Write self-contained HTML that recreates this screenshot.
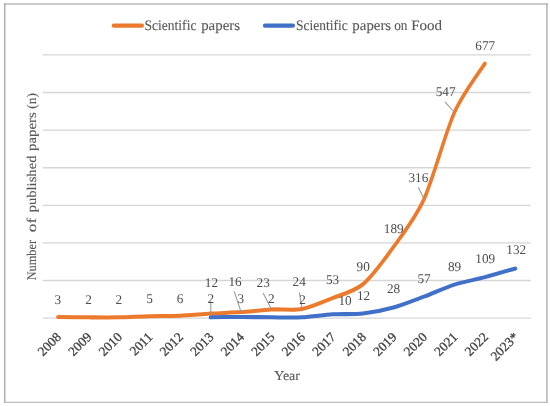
<!DOCTYPE html>
<html><head><meta charset="utf-8"><title>Chart</title>
<style>html,body{margin:0;padding:0;background:#fff}svg text{font-family:"Liberation Serif", serif;text-rendering:geometricPrecision;stroke-width:0.3px;} .d{stroke:#404040} .l{stroke:#595959;stroke-width:0.12px}</style></head>
<body>
<svg width="550" height="406" viewBox="0 0 550 406" style="display:block">
<rect x="0" y="0" width="550" height="406" fill="#fff"/>
<line x1="3.9" x2="547.7" y1="4.0" y2="4.0" stroke="#cbcbcb" stroke-width="2"/>
<line x1="3.9" x2="547.6" y1="402.25" y2="402.25" stroke="#acacac" stroke-width="1.2"/>
<line x1="4.7" x2="4.7" y1="3.0" y2="402.85" stroke="#afafaf" stroke-width="1.5"/>
<line x1="546.9" x2="546.9" y1="3.0" y2="402.85" stroke="#acacac" stroke-width="1.4"/>
<line x1="42.7" x2="530.7" y1="318.10" y2="318.10" stroke="#d6d6d6" stroke-width="1.35"/>
<line x1="42.7" x2="530.7" y1="280.50" y2="280.50" stroke="#d6d6d6" stroke-width="1.35"/>
<line x1="42.7" x2="530.7" y1="242.90" y2="242.90" stroke="#d6d6d6" stroke-width="1.35"/>
<line x1="42.7" x2="530.7" y1="205.30" y2="205.30" stroke="#d6d6d6" stroke-width="1.35"/>
<line x1="42.7" x2="530.7" y1="167.70" y2="167.70" stroke="#d6d6d6" stroke-width="1.35"/>
<line x1="42.7" x2="530.7" y1="130.10" y2="130.10" stroke="#d6d6d6" stroke-width="1.35"/>
<line x1="42.7" x2="530.7" y1="92.50" y2="92.50" stroke="#d6d6d6" stroke-width="1.35"/>
<line x1="42.7" x2="530.7" y1="54.90" y2="54.90" stroke="#d6d6d6" stroke-width="1.35"/>
<line x1="113.8" x2="141.9" y1="25.7" y2="25.7" stroke="#EC7A2C" stroke-width="4.3" stroke-linecap="round"/>
<text x="144.48" y="30.2" font-size="14.5" fill="#595959" class="l" textLength="51.95" lengthAdjust="spacingAndGlyphs">Scientific</text>
<text x="201.18" y="30.2" font-size="14.5" fill="#595959" class="l" textLength="38.78" lengthAdjust="spacingAndGlyphs">papers</text>
<line x1="265" x2="292.9" y1="25.7" y2="25.7" stroke="#4070C8" stroke-width="4.3" stroke-linecap="round"/>
<text x="296.00" y="30.2" font-size="14.5" fill="#595959" class="l" textLength="51.75" lengthAdjust="spacingAndGlyphs">Scientific</text>
<text x="352.38" y="30.2" font-size="14.5" fill="#595959" class="l" textLength="38.78" lengthAdjust="spacingAndGlyphs">papers</text>
<text x="394.20" y="30.2" font-size="14.5" fill="#595959" class="l" textLength="13.30" lengthAdjust="spacingAndGlyphs">on</text>
<text x="411.15" y="30.2" font-size="14.5" fill="#595959" class="l" textLength="30.96" lengthAdjust="spacingAndGlyphs">Food</text>
<g transform="scale(0.87,1)" fill="none" stroke-width="4.05" stroke-linecap="round" stroke-linejoin="round">
<path d="M66.61,316.97 C71.52,317.02 91.85,317.30 101.67,317.35 C111.48,317.40 126.91,317.51 136.72,317.35 C146.54,317.19 161.97,316.43 171.78,316.22 C181.60,316.01 197.02,316.21 206.84,315.84 C216.66,315.48 232.08,314.11 241.90,313.59 C251.71,313.06 267.14,312.66 276.95,312.08 C286.77,311.50 302.20,309.87 312.01,309.45 C321.83,309.03 337.25,310.66 347.07,309.08 C356.89,307.50 372.31,301.65 382.13,298.17 C391.94,294.70 407.37,291.42 417.18,284.26 C427.00,277.10 442.43,258.93 452.24,247.04 C462.06,235.14 477.48,218.13 487.30,199.28 C497.11,180.44 512.54,131.43 522.36,112.43 C532.17,93.42 552.51,70.39 557.41,63.55" stroke="#EC7A2C"/>
<path d="M241.90,317.35 C246.80,317.30 267.14,316.97 276.95,316.97 C286.77,316.97 302.20,317.30 312.01,317.35 C321.83,317.40 337.25,317.77 347.07,317.35 C356.89,316.93 372.31,314.87 382.13,314.34 C391.94,313.81 407.37,314.54 417.18,313.59 C427.00,312.64 442.43,309.94 452.24,307.57 C462.06,305.20 477.48,299.88 487.30,296.67 C497.11,293.46 512.54,287.37 522.36,284.64 C532.17,281.90 547.60,279.38 557.41,277.12 C567.23,274.85 587.56,269.68 592.47,268.47" stroke="#4070C8"/>
</g>
<line x1="210.8" y1="301.2" x2="210.9" y2="313.6" stroke="#969696" stroke-width="1.05"/>
<line x1="234.2" y1="291.4" x2="241" y2="311.9" stroke="#969696" stroke-width="1.05"/>
<line x1="263.1" y1="292.9" x2="271.4" y2="309.3" stroke="#969696" stroke-width="1.05"/>
<line x1="299.4" y1="292.3" x2="302" y2="308.9" stroke="#969696" stroke-width="1.05"/>
<line x1="418.3" y1="187.2" x2="424.2" y2="199.2" stroke="#969696" stroke-width="1.05"/>
<line x1="444.9" y1="101.8" x2="454.7" y2="112.5" stroke="#969696" stroke-width="1.05"/>
<text transform="translate(55.55,331.50) rotate(-45)" text-anchor="end" font-size="13.3" fill="#404040" class="d" y="9">2008</text>
<text transform="translate(86.05,331.50) rotate(-45)" text-anchor="end" font-size="13.3" fill="#404040" class="d" y="9">2009</text>
<text transform="translate(116.55,331.50) rotate(-45)" text-anchor="end" font-size="13.3" fill="#404040" class="d" y="9">2010</text>
<text transform="translate(147.05,331.50) rotate(-45)" text-anchor="end" font-size="13.3" fill="#404040" class="d" y="9">2011</text>
<text transform="translate(177.55,331.50) rotate(-45)" text-anchor="end" font-size="13.3" fill="#404040" class="d" y="9">2012</text>
<text transform="translate(208.05,331.50) rotate(-45)" text-anchor="end" font-size="13.3" fill="#404040" class="d" y="9">2013</text>
<text transform="translate(238.55,331.50) rotate(-45)" text-anchor="end" font-size="13.3" fill="#404040" class="d" y="9">2014</text>
<text transform="translate(269.05,331.50) rotate(-45)" text-anchor="end" font-size="13.3" fill="#404040" class="d" y="9">2015</text>
<text transform="translate(299.55,331.50) rotate(-45)" text-anchor="end" font-size="13.3" fill="#404040" class="d" y="9">2016</text>
<text transform="translate(330.05,331.50) rotate(-45)" text-anchor="end" font-size="13.3" fill="#404040" class="d" y="9">2017</text>
<text transform="translate(360.55,331.50) rotate(-45)" text-anchor="end" font-size="13.3" fill="#404040" class="d" y="9">2018</text>
<text transform="translate(391.05,331.50) rotate(-45)" text-anchor="end" font-size="13.3" fill="#404040" class="d" y="9">2019</text>
<text transform="translate(421.55,331.50) rotate(-45)" text-anchor="end" font-size="13.3" fill="#404040" class="d" y="9">2020</text>
<text transform="translate(452.05,331.50) rotate(-45)" text-anchor="end" font-size="13.3" fill="#404040" class="d" y="9">2021</text>
<text transform="translate(482.55,331.50) rotate(-45)" text-anchor="end" font-size="13.3" fill="#404040" class="d" y="9">2022</text>
<text transform="translate(513.05,331.50) rotate(-45)" text-anchor="end" font-size="13.3" fill="#404040" class="d" y="9">2023*</text>
<text x="274.2" y="380.3" font-size="13.6" fill="#595959" class="l" textLength="25.8" lengthAdjust="spacingAndGlyphs">Year</text>
<g transform="translate(36,280) rotate(-90)"><text x="-0.27" font-size="13.3" fill="#595959" class="l" textLength="40.25" lengthAdjust="spacingAndGlyphs">Number</text>
<text x="47.75" font-size="13.3" fill="#595959" class="l" textLength="14.46" lengthAdjust="spacingAndGlyphs">of</text>
<text x="67.68" font-size="13.3" fill="#595959" class="l" textLength="56.78" lengthAdjust="spacingAndGlyphs">published</text>
<text x="128.98" font-size="13.3" fill="#595959" class="l" textLength="38.88" lengthAdjust="spacingAndGlyphs">papers</text>
<text x="171.39" font-size="13.3" fill="#595959" class="l" textLength="15.69" lengthAdjust="spacingAndGlyphs">(n)</text></g>
<text x="54.49" y="303.7" font-size="13.4" fill="#4c4c4c" textLength="6.62" lengthAdjust="spacingAndGlyphs">3</text>
<text x="85.19" y="304" font-size="13.4" fill="#4c4c4c" textLength="6.62" lengthAdjust="spacingAndGlyphs">2</text>
<text x="115.49" y="304" font-size="13.4" fill="#4c4c4c" textLength="6.62" lengthAdjust="spacingAndGlyphs">2</text>
<text x="146.19" y="302.9" font-size="13.4" fill="#4c4c4c" textLength="6.62" lengthAdjust="spacingAndGlyphs">5</text>
<text x="176.69" y="302.6" font-size="13.4" fill="#4c4c4c" textLength="6.62" lengthAdjust="spacingAndGlyphs">6</text>
<text x="204.78" y="287.3" font-size="13.4" fill="#4c4c4c" textLength="13.24" lengthAdjust="spacingAndGlyphs">12</text>
<text x="228.48" y="285.5" font-size="13.4" fill="#4c4c4c" textLength="13.24" lengthAdjust="spacingAndGlyphs">16</text>
<text x="256.58" y="286.5" font-size="13.4" fill="#4c4c4c" textLength="13.24" lengthAdjust="spacingAndGlyphs">23</text>
<text x="292.58" y="286.2" font-size="13.4" fill="#4c4c4c" textLength="13.24" lengthAdjust="spacingAndGlyphs">24</text>
<text x="325.88" y="284.1" font-size="13.4" fill="#4c4c4c" textLength="13.24" lengthAdjust="spacingAndGlyphs">53</text>
<text x="356.58" y="270.6" font-size="13.4" fill="#4c4c4c" textLength="13.24" lengthAdjust="spacingAndGlyphs">90</text>
<text x="383.77" y="233.1" font-size="13.4" fill="#4c4c4c" textLength="19.86" lengthAdjust="spacingAndGlyphs">189</text>
<text x="408.47" y="181.8" font-size="13.4" fill="#4c4c4c" textLength="19.86" lengthAdjust="spacingAndGlyphs">316</text>
<text x="435.67" y="95.5" font-size="13.4" fill="#4c4c4c" textLength="19.86" lengthAdjust="spacingAndGlyphs">547</text>
<text x="475.27" y="49.7" font-size="13.4" fill="#4c4c4c" textLength="19.86" lengthAdjust="spacingAndGlyphs">677</text>
<text x="207.59" y="303.3" font-size="13.4" fill="#4c4c4c" textLength="6.62" lengthAdjust="spacingAndGlyphs">2</text>
<text x="237.39" y="302.8" font-size="13.4" fill="#4c4c4c" textLength="6.62" lengthAdjust="spacingAndGlyphs">3</text>
<text x="268.09" y="303.3" font-size="13.4" fill="#4c4c4c" textLength="6.62" lengthAdjust="spacingAndGlyphs">2</text>
<text x="299.19" y="303.7" font-size="13.4" fill="#4c4c4c" textLength="6.62" lengthAdjust="spacingAndGlyphs">2</text>
<text x="338.48" y="305.3" font-size="13.4" fill="#4c4c4c" textLength="13.24" lengthAdjust="spacingAndGlyphs">10</text>
<text x="356.88" y="299.7" font-size="13.4" fill="#4c4c4c" textLength="13.24" lengthAdjust="spacingAndGlyphs">12</text>
<text x="386.98" y="293.1" font-size="13.4" fill="#4c4c4c" textLength="13.24" lengthAdjust="spacingAndGlyphs">28</text>
<text x="417.38" y="282.8" font-size="13.4" fill="#4c4c4c" textLength="13.24" lengthAdjust="spacingAndGlyphs">57</text>
<text x="447.88" y="270.6" font-size="13.4" fill="#4c4c4c" textLength="13.24" lengthAdjust="spacingAndGlyphs">89</text>
<text x="475.37" y="263.2" font-size="13.4" fill="#4c4c4c" textLength="19.86" lengthAdjust="spacingAndGlyphs">109</text>
<text x="506.27" y="254.1" font-size="13.4" fill="#4c4c4c" textLength="19.86" lengthAdjust="spacingAndGlyphs">132</text>
</svg>
</body></html>
